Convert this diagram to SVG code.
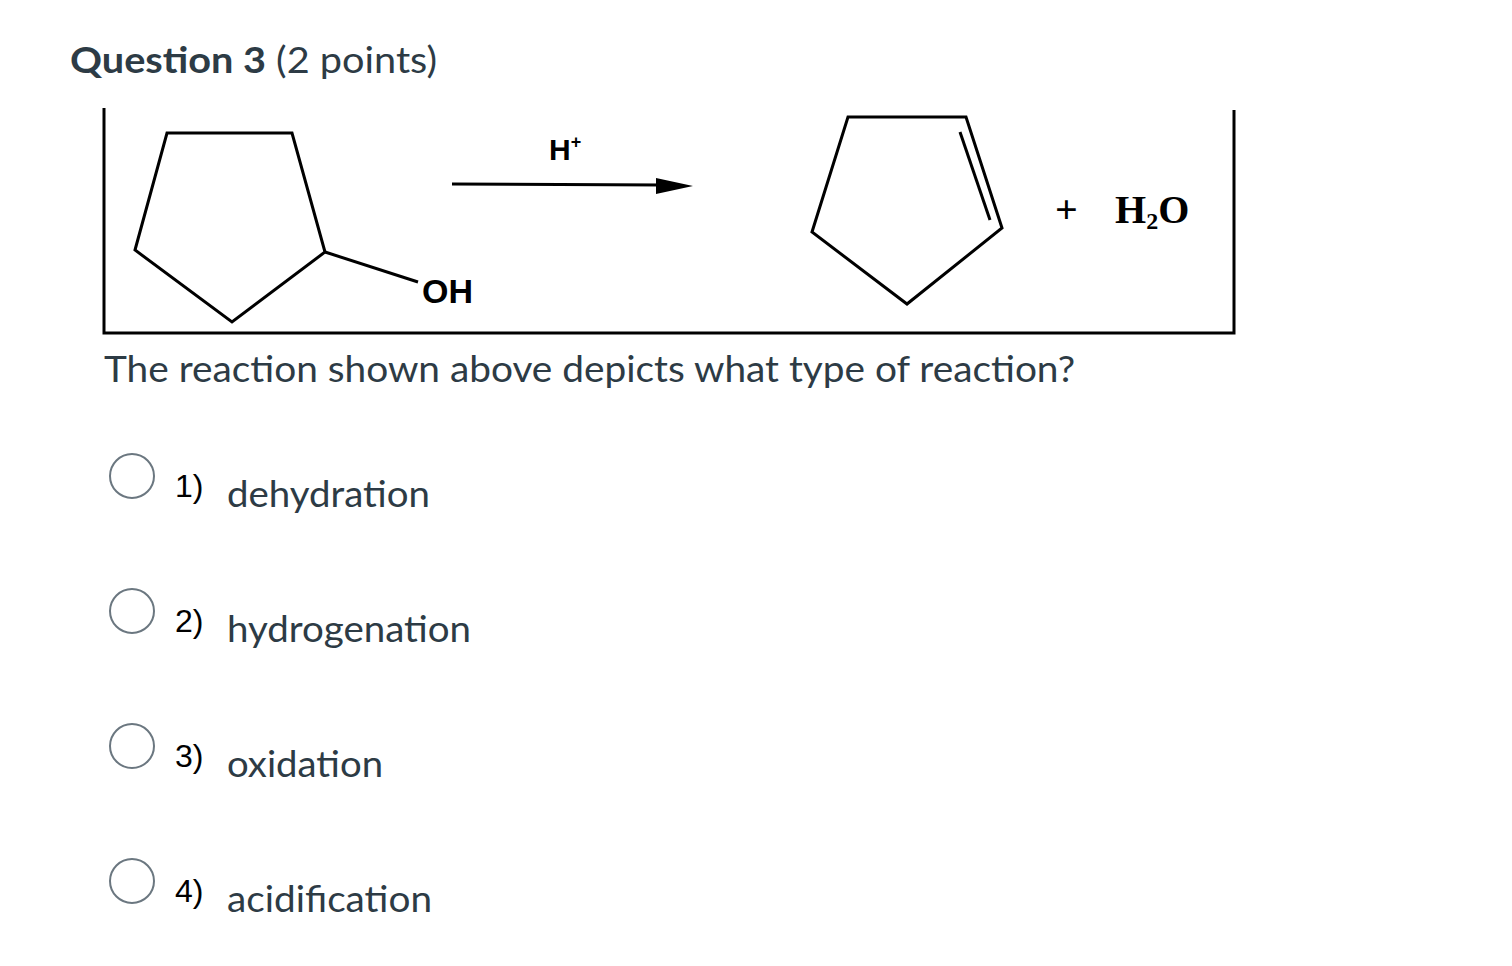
<svg xmlns="http://www.w3.org/2000/svg" width="1512" height="966" viewBox="0 0 1512 966">
<style>
.t{font-family:Lato,"Liberation Sans",sans-serif;fill:#2d3b45}
.ln{stroke:#000;stroke-width:3;fill:none}
.rb{fill:#fff;stroke:#6b7780;stroke-width:2}
.opt{font-family:Lato,"Liberation Sans",sans-serif;font-size:36px;fill:#2d3b45}
.num{font-family:"Liberation Sans",sans-serif;font-size:32px;fill:#000}
</style>
<rect width="1512" height="966" fill="#fff"/>
<text class="t" x="70" y="73" font-size="36" textLength="367" lengthAdjust="spacingAndGlyphs"><tspan font-weight="bold">Question 3</tspan> (2 points)</text>
<g id="frame" class="ln"><path d="M104,108 V333 H1234 V110"/></g>
<g id="reactant"><polygon class="ln" points="167,133 292,133 325,252 232,322 135,250"/><line class="ln" x1="325" y1="252" x2="418" y2="282"/>
<text x="422" y="303" font-family="Liberation Sans,sans-serif" font-size="34" font-weight="bold">OH</text></g>
<g id="connectors"><line x1="452" y1="184" x2="662" y2="185" stroke="#000" stroke-width="3"/><path d="M656,178 L693,186 L656,194 Z"/></g>
<text x="549" y="160" font-family="Liberation Sans,sans-serif" font-size="30" font-weight="bold">H<tspan font-size="18" dy="-12">+</tspan></text>
<g id="product"><polygon class="ln" points="848,117 966,117 1002,228 907,304 812,232"/><line class="ln" x1="960" y1="132" x2="990" y2="220"/></g>
<text x="1055" y="223" font-family="Liberation Serif,serif" font-size="40" font-weight="bold">+<tspan x="1115">H</tspan><tspan font-size="24" dy="6">2</tspan><tspan dy="-6">O</tspan></text>
<text class="t" x="104" y="382" font-size="36" textLength="971" lengthAdjust="spacingAndGlyphs">The reaction shown above depicts what type of reaction?</text>
<g id="o1"><circle class="rb" cx="132" cy="476" r="22"/><text class="num" x="175" y="497">1)</text><text class="opt" x="227" y="507" textLength="203" lengthAdjust="spacingAndGlyphs">dehydration</text></g>
<g id="o2"><circle class="rb" cx="132" cy="611" r="22"/><text class="num" x="175" y="632">2)</text><text class="opt" x="227" y="642" textLength="244" lengthAdjust="spacingAndGlyphs">hydrogenation</text></g>
<g id="o3"><circle class="rb" cx="132" cy="746" r="22"/><text class="num" x="175" y="767">3)</text><text class="opt" x="227" y="777" textLength="156" lengthAdjust="spacingAndGlyphs">oxidation</text></g>
<g id="o4"><circle class="rb" cx="132" cy="881" r="22"/><text class="num" x="175" y="902">4)</text><text class="opt" x="227" y="912" textLength="205" lengthAdjust="spacingAndGlyphs">acidification</text></g>
</svg>
